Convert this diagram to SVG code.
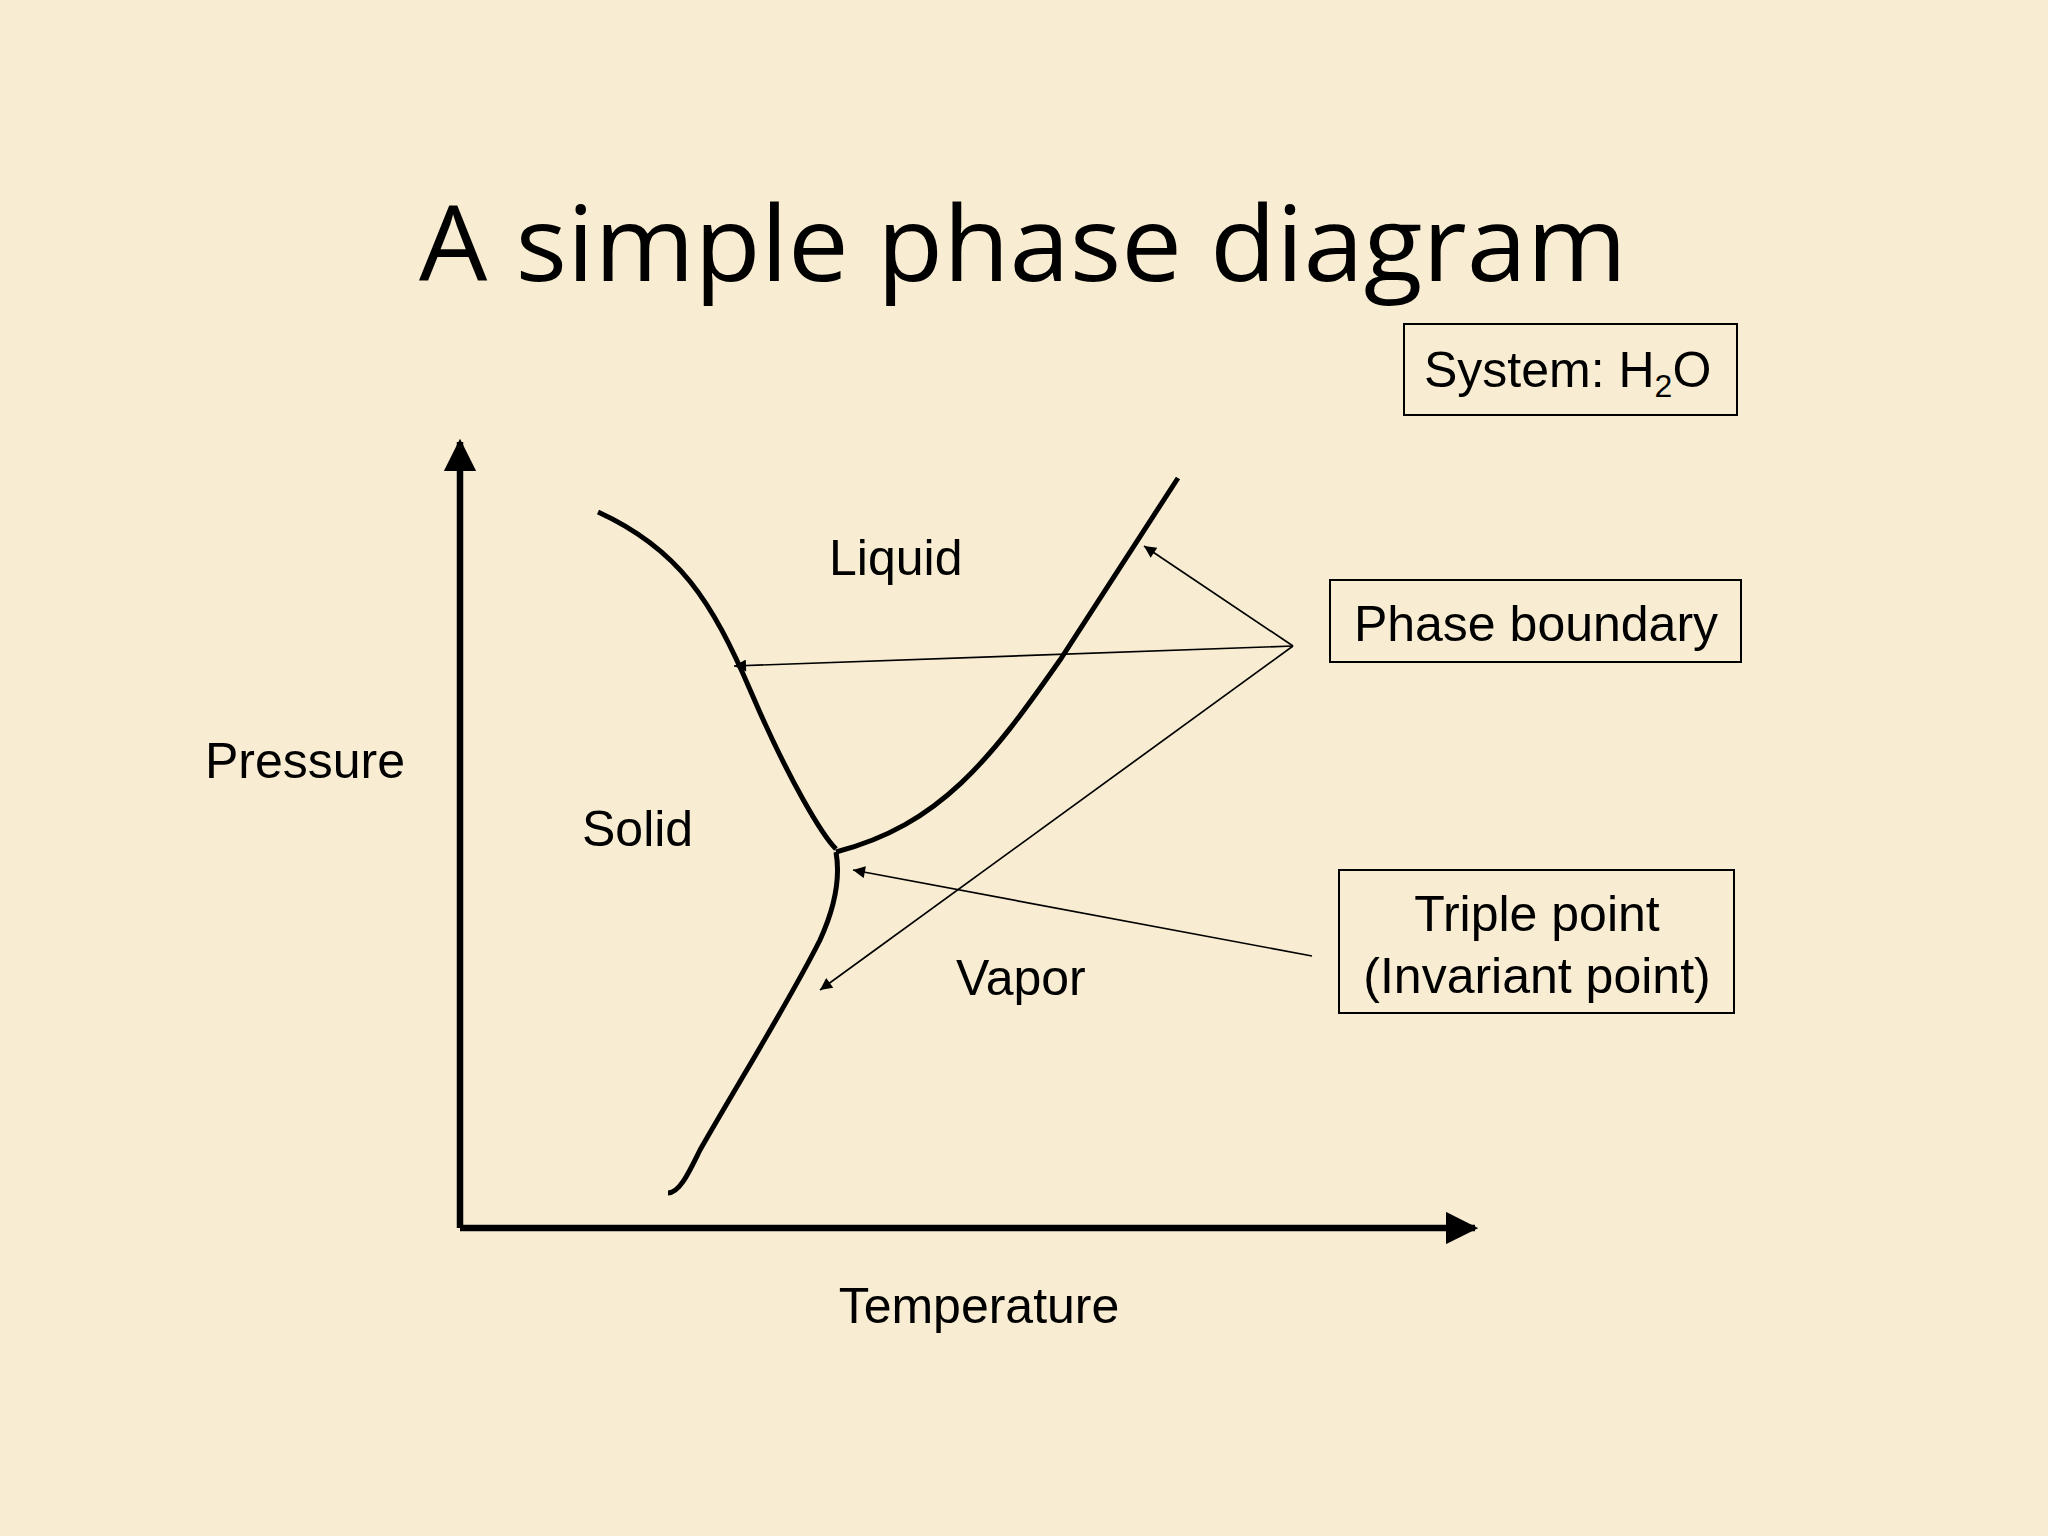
<svg xmlns="http://www.w3.org/2000/svg" width="2048" height="1536" viewBox="0 0 2048 1536">
<style>
.t{font-family:"Liberation Sans",Arial,sans-serif;font-size:50px;fill:#000}
.box{fill:none;stroke:#000;stroke-width:2}
.curve{fill:none;stroke:#000;stroke-width:5}
.axis{fill:none;stroke:#000;stroke-width:6.5}
.ptr{fill:none;stroke:#000;stroke-width:1.7;marker-end:url(#sm)}
</style>
<defs>
<marker id="sm" viewBox="0 0 10 10" refX="10" refY="5" markerWidth="14" markerHeight="12" markerUnits="userSpaceOnUse" orient="auto"><path d="M0,0 L10,5 L0,10 z" fill="#000"/></marker>
<marker id="big" viewBox="0 0 10 10" refX="9" refY="5" markerWidth="5" markerHeight="5" orient="auto"><path d="M0,0 L10,5 L0,10 z" fill="#000"/></marker>
</defs>
<rect width="2048" height="1536" fill="#F8EDD3"/>
<text x="1023" y="281" text-anchor="middle" font-family="'Open Sans',sans-serif" font-size="104" textLength="1208" lengthAdjust="spacingAndGlyphs">A simple phase diagram</text>
<g id="connectors">
<path class="axis" d="M460,1228 L460,442" marker-end="url(#big)"/>
<path class="axis" d="M460,1228 L1475,1228" marker-end="url(#big)"/>
<path class="curve" d="M598,512 C679,549 712,601 751,692 S823,836 836,849"/>
<path class="curve" d="M836,852 C940,825 990,760 1060,660 L1178,478"/>
<path class="curve" d="M836,852 C840,875 836,905 820,940 C790,1000 740,1080 700,1150 C690,1170 680,1193 668,1193"/>
<path class="ptr" d="M1293,646 L1144,546"/>
<path class="ptr" d="M1293,646 L734,666"/>
<path class="ptr" d="M1293,646 L820,990"/>
<path class="ptr" d="M1312,956 L853,870"/>
</g>
<g id="system"><rect class="box" x="1404" y="324" width="333" height="91"/><text class="t" x="1424" y="387">System: H<tspan font-size="32" dy="10">2</tspan><tspan dy="-10">O</tspan></text></g>
<g id="pressure"><text class="t" x="205" y="778">Pressure</text></g>
<g id="temperature"><text class="t" x="979" y="1323" text-anchor="middle">Temperature</text></g>
<g id="liquid"><text class="t" x="829" y="575">Liquid</text></g>
<g id="solid"><text class="t" x="582" y="846">Solid</text></g>
<g id="vapor"><text class="t" x="956" y="995">Vapor</text></g>
<g id="phaseboundary"><rect class="box" x="1330" y="580" width="411" height="82"/><text class="t" x="1536" y="641" text-anchor="middle">Phase boundary</text></g>
<g id="triplepoint"><rect class="box" x="1339" y="870" width="395" height="143"/><text class="t" x="1537" y="931" text-anchor="middle">Triple point</text><text class="t" x="1537" y="993" text-anchor="middle">(Invariant point)</text></g>
</svg>
